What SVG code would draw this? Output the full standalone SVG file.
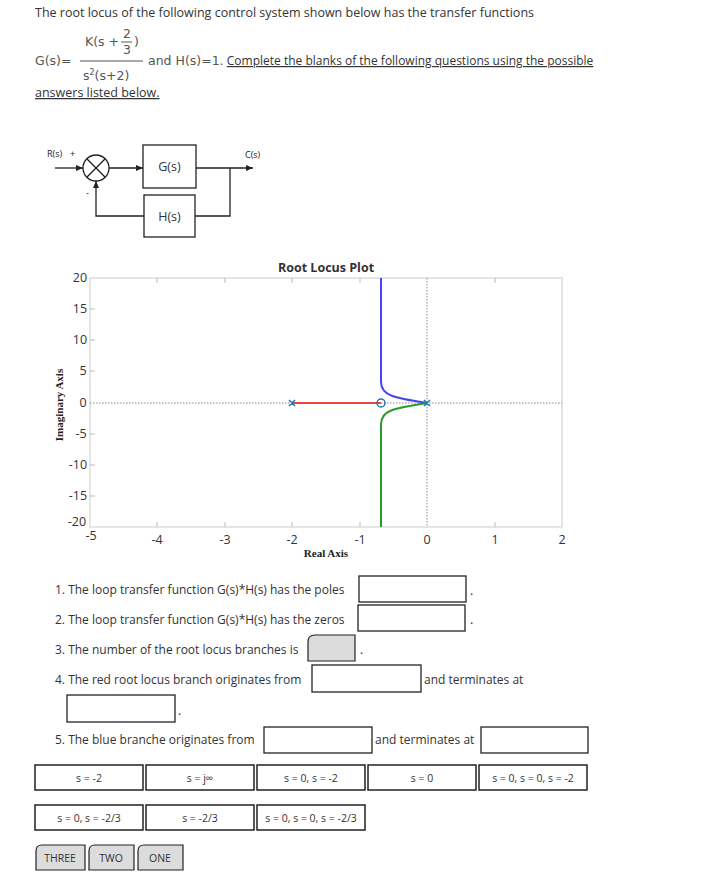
<svg xmlns="http://www.w3.org/2000/svg" width="715" height="891" viewBox="0 0 715 891">
<style>
text{font-family:"Open Sans","DejaVu Sans",sans-serif;fill:#333;font-size:12.5px}
.q{font-size:12px}
.m{font-family:"DejaVu Sans",sans-serif;fill:#555;font-size:12.5px}
.s{font-size:9px;fill:#222}
.ax{font-family:"Liberation Sans",sans-serif;font-size:10.5px;fill:#555;text-anchor:middle}
.ab{font-family:"Liberation Serif",serif;font-weight:bold;font-size:11px;fill:#222;text-anchor:middle}
.box{fill:#fff;stroke:#222;stroke-width:1.3}
.opt{fill:#fff;stroke:#222;stroke-width:1.5}
.ot{font-size:10.5px;text-anchor:middle}
.btn{fill:#dcdcdc;stroke:#222;stroke-width:1.2}
.ln{stroke:#222;stroke-width:1.3;fill:none}
.tick{stroke:#bbb;stroke-width:1}
.dot{stroke:#888;stroke-width:1;stroke-dasharray:1.5 1.5}
</style>
<defs>
<marker id="ar" markerWidth="8" markerHeight="8" refX="7" refY="4" orient="auto" markerUnits="userSpaceOnUse"><path d="M0,1 L7,4 L0,7z" fill="#222"/></marker>
</defs>
<rect width="715" height="891" fill="#fff"/>
<g id="header">
<text x="35" y="17">The root locus of the following control system shown below has the transfer functions</text>
<text class="m" x="85" y="46">K(s +</text>
<text class="m" x="123" y="38" font-size="11.5">2</text>
<line x1="121" y1="42" x2="132" y2="42" stroke="#555"/>
<text class="m" x="123" y="54" font-size="11.5">3</text>
<text class="m" x="134" y="46">)</text>
<text class="m" x="35" y="65">G(s)=</text>
<line x1="80" y1="61" x2="143" y2="61" stroke="#555"/>
<text class="m" x="83" y="80">s<tspan font-size="8" dy="-5">2</tspan><tspan dy="5">(s+2)</tspan></text>
<text x="148" y="65"><tspan class="m" font-size="12">and H(s)=1.</tspan> <tspan text-decoration="underline" font-size="12">Complete the blanks of the following questions using the possible</tspan></text>
<text x="35" y="97" text-decoration="underline" font-size="12">answers listed below.</text>
</g>
<g id="block">
<g id="sum"><circle cx="96" cy="168" r="13" class="ln"/><line x1="86.8" y1="158.8" x2="105.2" y2="177.2" class="ln"/><line x1="86.8" y1="177.2" x2="105.2" y2="158.8" class="ln"/></g>
<g id="G"><rect x="143" y="145" width="53" height="43" class="box"/><text x="169.5" y="171" text-anchor="middle" font-size="11">G(s)</text></g>
<g id="Hb"><rect x="144" y="195" width="51" height="42" class="box"/><text x="169.5" y="221" text-anchor="middle" font-size="11">H(s)</text></g>
<g id="conn">
<line x1="55" y1="168" x2="83" y2="168" class="ln" marker-end="url(#ar)"/>
<line x1="109" y1="168" x2="143" y2="168" class="ln" marker-end="url(#ar)"/>
<line x1="196" y1="168" x2="253" y2="168" class="ln" marker-end="url(#ar)"/>
<polyline points="230,168 230,216 195,216" class="ln"/>
<polyline points="144,216 96,216 96,181" class="ln" marker-end="url(#ar)"/>
</g>
<text class="s" x="47" y="157">R(s)</text><text class="s" x="70" y="157">+</text>
<text class="s" x="86" y="196">-</text><text class="s" x="245" y="158">C(s)</text>
</g>
<g id="plot">
<rect x="90" y="278" width="472" height="249" fill="#fff" stroke="#ccc"/>
<g class="tick">
<line x1="90" y1="309" x2="95" y2="309"/><line x1="90" y1="340" x2="95" y2="340"/><line x1="90" y1="371" x2="95" y2="371"/><line x1="90" y1="434" x2="95" y2="434"/><line x1="90" y1="465" x2="95" y2="465"/><line x1="90" y1="496" x2="95" y2="496"/>
<line x1="157" y1="527" x2="157" y2="522"/><line x1="225" y1="527" x2="225" y2="522"/><line x1="292" y1="527" x2="292" y2="522"/><line x1="360" y1="527" x2="360" y2="522"/><line x1="495" y1="527" x2="495" y2="522"/>
<line x1="157" y1="278" x2="157" y2="283"/><line x1="225" y1="278" x2="225" y2="283"/><line x1="292" y1="278" x2="292" y2="283"/><line x1="360" y1="278" x2="360" y2="283"/><line x1="495" y1="278" x2="495" y2="283"/>
</g>
<line x1="90" y1="403" x2="562" y2="403" class="dot"/>
<line x1="427" y1="278" x2="427" y2="527" class="dot"/>
<line x1="292" y1="403" x2="381" y2="403" stroke="#e84545" stroke-width="2"/>
<path d="M381,278 L381,382 C381,396 395,398 427,403" stroke="#4444ee" stroke-width="2" fill="none"/>
<path d="M381,527 L381,424 C381,410 395,408 427,403" stroke="#2a9a2a" stroke-width="2" fill="none"/>
<circle cx="381" cy="403" r="4" fill="none" stroke="#1f77b4" stroke-width="1.5"/>
<path d="M289,400 l6,6 M289,406 l6,-6 M424,400 l6,6 M424,406 l6,-6" stroke="#1f77b4" stroke-width="1.5"/>
<text x="326" y="272" font-family="Liberation Sans,sans-serif" font-weight="bold" font-size="12" fill="#222" text-anchor="middle">Root Locus Plot</text>
<g class="ax">
<text x="80" y="282">20</text><text x="80" y="313">15</text><text x="80" y="344">10</text><text x="83" y="375">5</text><text x="83" y="407">0</text><text x="81" y="438">-5</text><text x="78" y="469">-10</text><text x="78" y="500">-15</text><text x="77" y="526">-20</text>
<text x="91" y="540">-5</text><text x="157" y="544">-4</text><text x="225" y="544">-3</text><text x="292" y="544">-2</text><text x="360" y="544">-1</text><text x="427" y="544">0</text><text x="495" y="544">1</text><text x="562" y="544">2</text>
</g>
<text class="ab" x="326" y="557">Real Axis</text>
<text class="ab" transform="translate(63,405) rotate(-90)">Imaginary Axis</text>
</g>
<g id="questions">
<text class="q" x="55" y="594">1. The loop transfer function G(s)*H(s) has the poles</text>
<rect x="359" y="576" width="107" height="26" class="box"/><text x="470" y="595">.</text>
<text class="q" x="55" y="624">2. The loop transfer function G(s)*H(s) has the zeros</text>
<rect x="358" y="605" width="107" height="26" class="box"/><text x="470" y="624">.</text>
<text class="q" x="55" y="654">3. The number of the root locus branches is</text>
<path d="M308,661 V642 Q308,635 315,635 H355 V661 Z" class="btn"/><text x="360" y="654">.</text>
<text class="q" x="55" y="684">4. The red root locus branch originates from</text>
<rect x="312" y="665" width="109" height="27" class="box"/><text class="q" x="424" y="684">and terminates at</text>
<rect x="67" y="695" width="108" height="27" class="box"/><text x="178" y="715">.</text>
<text class="q" x="55" y="744">5. The blue branche originates from</text>
<rect x="264" y="727" width="108" height="26" class="box"/><text class="q" x="375" y="744">and terminates at</text>
<rect x="481" y="727" width="107" height="26" class="box"/>
</g>
<g id="options">
<rect x="35" y="765" width="108" height="25" class="opt"/><text class="ot" x="89" y="782">s = -2</text>
<rect x="146" y="765" width="108" height="25" class="opt"/><text class="ot" x="200" y="782">s = j∞</text>
<rect x="257" y="765" width="108" height="25" class="opt"/><text class="ot" x="311" y="782">s = 0, s = -2</text>
<rect x="368" y="765" width="108" height="25" class="opt"/><text class="ot" x="422" y="782">s = 0</text>
<rect x="479" y="765" width="108" height="25" class="opt"/><text class="ot" x="533" y="782">s = 0, s = 0, s = -2</text>
<rect x="35" y="805" width="108" height="25" class="opt"/><text class="ot" x="89" y="822">s = 0, s = -2/3</text>
<rect x="146" y="805" width="108" height="25" class="opt"/><text class="ot" x="200" y="822">s = -2/3</text>
<rect x="257" y="805" width="108" height="25" class="opt"/><text class="ot" x="311" y="822">s = 0, s = 0, s = -2/3</text>
<path d="M36,870 V851 Q36,845 42,845 H85 V870 Z" class="btn"/><text class="ot" x="60" y="862">THREE</text>
<path d="M89,870 V851 Q89,845 95,845 H134 V870 Z" class="btn"/><text class="ot" x="111" y="862">TWO</text>
<path d="M138,870 V851 Q138,845 144,845 H183 V870 Z" class="btn"/><text class="ot" x="160" y="862">ONE</text>
</g>
</svg>
